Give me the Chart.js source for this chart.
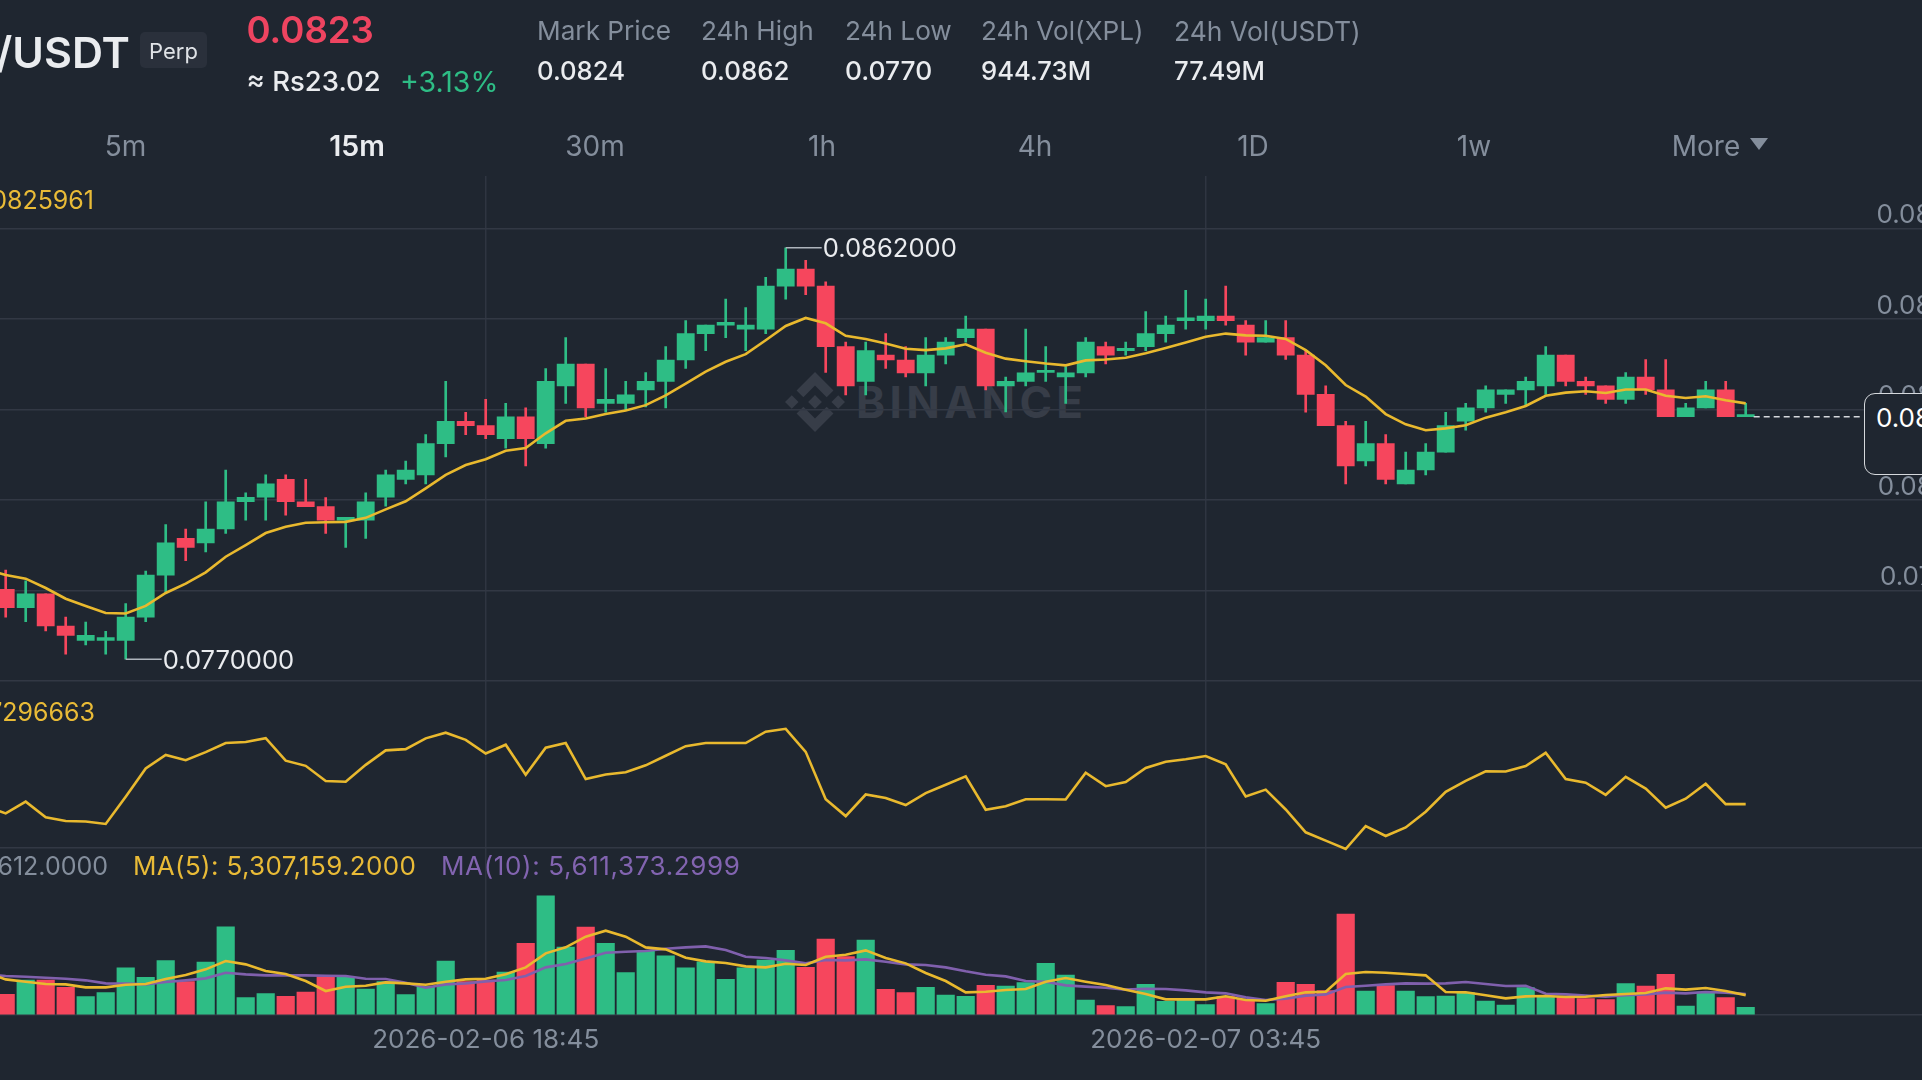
<!DOCTYPE html>
<html lang="en">
<head>
<meta charset="utf-8">
<title>XPL/USDT Perp 15m</title>
<script src="https://cdn.jsdelivr.net/npm/chart.js@4"></script>
<style>
html,body{margin:0;padding:0;width:1922px;height:1080px;overflow:hidden;background:#1f2630;font-family:Inter,"Noto Sans",sans-serif}
#stage{position:absolute;left:0;top:0;width:1922px;height:1080px;overflow:hidden}
canvas{position:absolute;left:0;top:0;z-index:2}
.t{position:absolute;white-space:nowrap;line-height:1;transform:translateY(-50%);z-index:3}
.r{transform:translate(-100%,-50%)}
.c{transform:translate(-50%,-50%)}
.g{color:#848e9c}.w{color:#eaecef}
#wm{position:absolute;left:785px;top:372px;width:300px;height:60px;z-index:1;color:#373d48}
#box{position:absolute;left:1864px;top:393px;width:120px;height:80px;border:1.5px solid #d5d8dc;border-radius:11px;background:#1f2630;z-index:3}
#tri{position:absolute;left:1750px;top:138px;width:0;height:0;border-left:9px solid transparent;border-right:9px solid transparent;border-top:12px solid #848e9c;z-index:3}
</style>
</head>
<body>
<div id="stage">
<div id="wm">
<svg width="60" height="60" viewBox="0 0 126.61 126.61" style="position:absolute;left:0;top:0"><path fill="#373d48" d="M38.73 53.2l24.59-24.58 24.6 24.6 14.3-14.31L63.32 0 24.42 38.9zM0 63.31l14.3-14.31 14.31 14.31-14.31 14.3zM38.73 73.41L63.32 97.99l24.6-24.6 14.31 14.29-38.9 38.91-38.91-38.88zM98 63.31l14.3-14.31 14.31 14.3-14.31 14.32zM77.83 63.3L63.32 48.78 52.59 59.51l-1.24 1.23-2.54 2.54 14.51 14.5L77.83 63.32z"/></svg>
<span style="position:absolute;left:71px;top:30px;transform:translateY(-50%);font-size:44px;font-weight:700;letter-spacing:4.4px;line-height:1">BINANCE</span>
</div>
<canvas id="c" width="2012" height="1080" style="width:2012px;height:1080px"></canvas>

<div class="t r w" style="left:130px;top:52px;font-size:43px;font-weight:600">XPL/USDT</div>
<div style="position:absolute;left:140px;top:32px;width:67px;height:36px;background:#2a303b;border-radius:5px;z-index:2"></div>
<div class="t c w" style="left:173.5px;top:51px;font-size:22px;color:#dfe2e6">Perp</div>
<div class="t" style="left:246.5px;top:30px;font-size:36.6px;font-weight:600;color:#ee4460">0.0823</div>
<div class="t w" style="left:246.5px;top:82px;font-size:27.5px;font-weight:500">≈ Rs23.02</div>
<div class="t" style="left:400px;top:82px;font-size:28.5px;color:#2ebd85">+3.13%</div>

<div class="t g" style="left:537px;top:31px;font-size:26.2px">Mark Price</div>
<div class="t w" style="left:537px;top:71px;font-size:25.7px;font-weight:500">0.0824</div>
<div class="t g" style="left:701px;top:31px;font-size:26.2px">24h High</div>
<div class="t w" style="left:701px;top:71px;font-size:25.9px;font-weight:500">0.0862</div>
<div class="t g" style="left:845px;top:31px;font-size:26.2px">24h Low</div>
<div class="t w" style="left:845px;top:71px;font-size:26.3px;font-weight:500">0.0770</div>
<div class="t g" style="left:981px;top:31px;font-size:26.2px">24h Vol(XPL)</div>
<div class="t w" style="left:981px;top:71px;font-size:25.7px;font-weight:500">944.73M</div>
<div class="t g" style="left:1174px;top:31px;font-size:26.5px">24h Vol(USDT)</div>
<div class="t w" style="left:1174px;top:71px;font-size:25.7px;font-weight:500">77.49M</div>

<div class="t c g" style="left:125.5px;top:146px;font-size:28px">5m</div>
<div class="t c w" style="left:357px;top:146px;font-size:28.5px;font-weight:600">15m</div>
<div class="t c g" style="left:595px;top:146px;font-size:28px">30m</div>
<div class="t c g" style="left:822px;top:146px;font-size:28px">1h</div>
<div class="t c g" style="left:1035px;top:146px;font-size:28px">4h</div>
<div class="t c g" style="left:1253px;top:146px;font-size:28px">1D</div>
<div class="t c g" style="left:1474px;top:146px;font-size:28px">1w</div>
<div class="t c g" style="left:1706px;top:146px;font-size:28px">More</div>
<div id="tri"></div>

<div class="t r" style="left:94px;top:200px;font-size:25px;color:#e9bb37">0.0825961</div>
<div class="t r" style="left:95px;top:712px;font-size:25px;color:#e9bb37">47.7296663</div>
<div class="t r g" style="left:108px;top:866px;font-size:25px">612.0000</div>
<div class="t" style="left:133px;top:866px;font-size:26px;letter-spacing:.35px;color:#e9bb37">MA(5): 5,307,159.2000</div>
<div class="t" style="left:441px;top:866px;font-size:26px;letter-spacing:.63px;color:#8264b0">MA(10): 5,611,373.2999</div>

<div id="box"></div>
<div class="t w" style="left:1876px;top:418px;font-size:26px;color:#fff">0.0824000</div>
</div>

<script>
const timeTickIndex = [24, 60];
const timeTickLabels = ['2026-02-06 18:45', '2026-02-07 03:45'];

const opens = [0.07856,0.07815,0.07846,0.07774,0.07742,0.07742,0.07742,0.07794,0.07888,0.07970,0.07960,0.07991,0.08052,0.08062,0.08102,0.08052,0.08041,0.08011,0.08011,0.08062,0.08102,0.08112,0.08182,0.08232,0.08222,0.08193,0.08242,0.08182,0.08311,0.08360,0.08272,0.08272,0.08302,0.08321,0.08369,0.08428,0.08447,0.08438,0.08438,0.08534,0.08572,0.08534,0.08399,0.08321,0.08380,0.08369,0.08340,0.08380,0.08419,0.08438,0.08311,0.08321,0.08341,0.08331,0.08340,0.08399,0.08390,0.08399,0.08428,0.08457,0.08457,0.08467,0.08447,0.08409,0.08419,0.08380,0.08292,0.08222,0.08143,0.08182,0.08092,0.08123,0.08163,0.08232,0.08262,0.08292,0.08302,0.08311,0.08380,0.08321,0.08311,0.08281,0.08331,0.08302,0.08242,0.08262,0.08302,0.08242];
const highs = [0.07899,0.07875,0.07846,0.07794,0.07783,0.07762,0.07824,0.07897,0.08001,0.07991,0.08052,0.08123,0.08072,0.08112,0.08112,0.08102,0.08061,0.08017,0.08072,0.08123,0.08143,0.08202,0.08321,0.08252,0.08281,0.08272,0.08262,0.08350,0.08419,0.08360,0.08350,0.08321,0.08341,0.08399,0.08457,0.08447,0.08505,0.08486,0.08554,0.08620,0.08592,0.08544,0.08409,0.08409,0.08428,0.08399,0.08419,0.08419,0.08467,0.08438,0.08331,0.08438,0.08399,0.08354,0.08419,0.08409,0.08409,0.08477,0.08467,0.08525,0.08505,0.08534,0.08457,0.08457,0.08457,0.08390,0.08311,0.08232,0.08232,0.08202,0.08163,0.08182,0.08252,0.08272,0.08311,0.08302,0.08331,0.08399,0.08380,0.08331,0.08311,0.08341,0.08370,0.08370,0.08272,0.08321,0.08321,0.08272];
const lows = [0.07794,0.07784,0.07763,0.07711,0.07732,0.07711,0.07700,0.07784,0.07850,0.07920,0.07940,0.07981,0.08011,0.08011,0.08022,0.08041,0.07981,0.07950,0.07970,0.08042,0.08092,0.08092,0.08152,0.08202,0.08193,0.08172,0.08132,0.08172,0.08272,0.08242,0.08252,0.08257,0.08264,0.08262,0.08350,0.08390,0.08419,0.08390,0.08428,0.08505,0.08515,0.08341,0.08291,0.08291,0.08350,0.08331,0.08311,0.08360,0.08409,0.08302,0.08253,0.08311,0.08321,0.08272,0.08331,0.08360,0.08380,0.08390,0.08409,0.08438,0.08438,0.08447,0.08380,0.08409,0.08370,0.08252,0.08222,0.08092,0.08132,0.08092,0.08092,0.08112,0.08163,0.08212,0.08252,0.08272,0.08266,0.08292,0.08311,0.08292,0.08272,0.08272,0.08292,0.08242,0.08242,0.08262,0.08242,0.08242];
const closes = [0.07815,0.07846,0.07774,0.07753,0.07753,0.07748,0.07794,0.07888,0.07960,0.07950,0.07991,0.08052,0.08062,0.08092,0.08052,0.08041,0.08011,0.08017,0.08052,0.08112,0.08123,0.08182,0.08232,0.08222,0.08202,0.08242,0.08193,0.08321,0.08360,0.08262,0.08281,0.08291,0.08321,0.08369,0.08428,0.08447,0.08453,0.08447,0.08534,0.08572,0.08534,0.08399,0.08311,0.08390,0.08369,0.08340,0.08380,0.08409,0.08438,0.08311,0.08321,0.08340,0.08346,0.08340,0.08409,0.08380,0.08395,0.08428,0.08447,0.08463,0.08467,0.08457,0.08409,0.08419,0.08380,0.08292,0.08222,0.08132,0.08182,0.08102,0.08123,0.08163,0.08222,0.08262,0.08302,0.08302,0.08321,0.08380,0.08321,0.08311,0.08281,0.08331,0.08302,0.08242,0.08262,0.08302,0.08242,0.08247];
const priceMAPrev = 0.07901;
const priceMA = [0.07888,0.07880,0.07859,0.07835,0.07819,0.07803,0.07802,0.07819,0.07848,0.07869,0.07894,0.07929,0.07955,0.07982,0.07996,0.08005,0.08006,0.08007,0.08016,0.08035,0.08053,0.08082,0.08112,0.08134,0.08147,0.08166,0.08172,0.08205,0.08233,0.08238,0.08248,0.08256,0.08268,0.08290,0.08316,0.08343,0.08365,0.08382,0.08413,0.08445,0.08463,0.08451,0.08423,0.08416,0.08406,0.08394,0.08391,0.08395,0.08404,0.08385,0.08372,0.08366,0.08361,0.08357,0.08368,0.08370,0.08374,0.08384,0.08396,0.08408,0.08421,0.08428,0.08424,0.08423,0.08416,0.08391,0.08357,0.08313,0.08287,0.08248,0.08225,0.08212,0.08216,0.08223,0.08240,0.08252,0.08266,0.08289,0.08296,0.08299,0.08295,0.08303,0.08303,0.08289,0.08284,0.08288,0.08279,0.08272];

const rsiPrev = 46.5;
const rsiValues = [43.5,48.3,41.9,40.4,40.2,39.2,50.3,61.8,67.3,65.2,68.5,72.2,72.6,74.2,65.0,62.9,56.7,56.4,63.3,69.2,69.7,74.1,76.4,73.5,67.9,71.5,59.3,70.3,72.2,57.5,59.4,60.3,63.1,67.0,70.9,72.2,72.2,72.2,76.8,78.0,68.6,49.3,42.4,51.2,49.8,46.9,51.8,55.2,58.6,45.0,46.4,49.3,49.3,49.2,60.1,54.6,56.3,62.0,64.6,65.6,66.9,63.5,50.4,53.2,45.1,35.8,32.4,29.0,38.3,34.3,37.8,44.2,52.3,56.8,60.7,60.6,62.8,68.2,57.5,56.0,51.1,58.4,53.6,45.8,49.5,55.6,47.3,47.3];

const volumes = [5.51,9.33,9.33,7.38,4.89,5.96,12.62,10.05,14.49,8.89,14.14,23.56,4.62,5.69,4.98,6.13,10.22,10.05,6.93,8.89,5.42,7.56,14.40,8.89,9.33,11.47,19.11,31.83,18.14,23.47,19.11,11.29,17.16,15.82,12.62,14.22,9.51,12.62,14.67,17.25,12.71,20.27,15.56,20.00,6.85,5.96,7.38,5.33,4.98,7.91,7.73,8.62,13.78,10.67,4.00,2.49,2.22,8.18,3.64,4.18,2.76,4.89,4.18,3.02,8.71,8.18,6.49,26.94,6.40,7.82,6.40,4.89,5.07,5.96,3.73,2.67,7.29,5.07,4.71,4.36,4.09,8.36,7.73,10.85,2.40,6.13,4.62,2.04];
const volumeMA5Prev = 11.38;
const volumeMA5 = [9.51,8.89,8.27,8.18,7.38,7.38,8.09,8.27,9.60,10.67,12.18,14.40,13.51,11.73,10.93,9.07,6.40,7.56,7.82,8.71,8.45,8.09,8.89,9.51,9.69,10.85,12.71,16.45,18.05,20.89,22.49,20.89,18.05,17.51,15.29,14.31,13.87,12.98,12.71,13.69,13.34,15.56,16.09,17.25,15.20,13.78,11.20,9.07,6.05,6.22,6.67,6.93,8.89,9.87,8.89,8.00,6.76,5.60,4.18,4.18,4.18,4.98,4.00,3.82,4.98,6.05,6.22,10.93,11.47,11.29,10.93,10.58,6.13,6.05,5.25,4.45,4.98,5.07,4.80,4.89,5.33,5.60,5.87,7.11,6.76,7.20,6.40,5.31];
const volumeMA10Prev = 10.76;
const volumeMA10 = [10.40,10.22,9.96,9.69,9.25,8.45,8.36,8.18,8.80,9.25,9.78,11.29,10.85,10.58,10.58,10.58,10.49,10.40,9.69,9.60,8.62,7.29,8.18,8.45,8.98,9.33,10.40,12.71,13.60,15.11,16.62,16.89,17.07,17.69,18.05,18.31,17.34,15.56,15.20,14.58,13.78,14.67,14.58,14.85,14.22,13.51,13.34,12.71,11.65,10.76,10.31,9.07,8.89,7.91,7.56,7.29,6.76,7.02,6.93,6.58,6.05,5.78,4.71,4.00,4.36,5.16,5.51,7.47,7.82,8.18,8.45,8.36,8.45,8.80,8.27,7.73,7.82,5.69,5.51,5.16,4.89,5.25,5.51,5.96,5.78,6.13,5.96,5.61];

const priceGrid = [0.086634,0.084605,0.082585,0.080555,0.078535,0.076515];
const highMark = {index: 39, value: 0.0862, text: '0.0862000', dy: 1.5};
const lowMark = {index: 6, value: 0.0770, text: '0.0770000', dy: 2};
const lastPrice = 0.08242;

const UP = '#2ebd85', DOWN = '#f6465d', YEL = '#e9b92e', PUR = '#8060ad', GRID = '#323844', VGRID = '#2f3541';
const FONT = 'Inter, "Noto Sans", sans-serif';
const idx = opens.map((_, i) => i);
const isUp = i => closes[i] >= opens[i];
const col = idx.map(i => isUp(i) ? UP : DOWN);
const pts = arr => arr.map((v, i) => ({x: i, y: v}));
const withPrev = (prev, arr) => [{x: -1, y: prev}, ...pts(arr)];

const marks = {
  id: 'marks',
  afterDatasetsDraw(chart) {
    const {ctx, scales: {x, yPrice}} = chart;
    ctx.save();
    ctx.font = '25.6px ' + FONT;
    ctx.textBaseline = 'middle';
    ctx.textAlign = 'left';
    for (const m of [highMark, lowMark]) {
      const px = x.getPixelForValue(m.index), py = yPrice.getPixelForValue(m.value);
      ctx.strokeStyle = '#aeb4bc'; ctx.lineWidth = 1.5;
      ctx.beginPath(); ctx.moveTo(px, py); ctx.lineTo(px + 36, py); ctx.stroke();
      ctx.fillStyle = '#eaecef';
      ctx.fillText(m.text, px + 37, py + m.dy);
    }
    const lx = x.getPixelForValue(opens.length - 1) + 8, ly = yPrice.getPixelForValue(lastPrice);
    ctx.strokeStyle = '#d5d8dc'; ctx.lineWidth = 1.5; ctx.setLineDash([6, 4]);
    ctx.beginPath(); ctx.moveTo(lx, ly); ctx.lineTo(1862, ly); ctx.stroke();
    ctx.restore();
  }
};

const stackAxis = (min, max, weight, stackWeight, ticks) => ({
  type: 'linear', position: 'right', stack: 'panes', stackWeight, weight, min, max,
  afterBuildTicks: s => { s.ticks = ticks.map(v => ({value: v})); },
  afterFit: s => { s.width = 0; },
  grid: {color: GRID, lineWidth: 1.5, drawTicks: false},
  border: {display: false},
  ticks: {mirror: true, padding: 0, callback: () => ''}
});

const yPriceAxis = stackAxis(0.076515, 0.087804, 0, 505, priceGrid);
yPriceAxis.ticks = {
  mirror: true, padding: 1, color: '#848e9c', labelOffset: -13,
  font: {size: 26, family: FONT},
  callback: v => v > 0.077 ? Number(v).toFixed(7) : ''
};

new Chart(document.getElementById('c'), {
  data: {
    datasets: [
      {type: 'bar', xAxisID: 'x', yAxisID: 'yPrice', order: 5, grouped: false, barThickness: 2, backgroundColor: col, data: idx.map(i => ({x: i, y: [lows[i], highs[i]]}))},
      {type: 'bar', xAxisID: 'x', yAxisID: 'yPrice', order: 4, grouped: false, barThickness: 17.2, backgroundColor: col, data: idx.map(i => ({x: i, y: [opens[i], closes[i]]}))},
      {type: 'line', xAxisID: 'x', yAxisID: 'yPrice', order: 1, borderColor: YEL, borderWidth: 2.6, pointRadius: 0, tension: 0, data: withPrev(priceMAPrev, priceMA)},
      {type: 'line', xAxisID: 'x', yAxisID: 'yRsi', order: 1, borderColor: YEL, borderWidth: 2.6, pointRadius: 0, tension: 0, clip: 8, data: withPrev(rsiPrev, rsiValues)},
      {type: 'bar', xAxisID: 'x', yAxisID: 'yVol', order: 4, grouped: false, barThickness: 17.5, backgroundColor: col, data: pts(volumes)},
      {type: 'line', xAxisID: 'x', yAxisID: 'yVol', order: 2, borderColor: PUR, borderWidth: 2.6, pointRadius: 0, tension: 0, data: withPrev(volumeMA10Prev, volumeMA10)},
      {type: 'line', xAxisID: 'x', yAxisID: 'yVol', order: 1, borderColor: YEL, borderWidth: 2.6, pointRadius: 0, tension: 0, data: withPrev(volumeMA5Prev, volumeMA5)}
    ]
  },
  options: {
    responsive: false, animation: false, devicePixelRatio: 1,
    layout: {padding: {top: 176, left: 0, right: 0, bottom: 0}},
    plugins: {legend: {display: false}, tooltip: {enabled: false}},
    scales: {
      x: {
        type: 'linear', position: 'bottom', offset: false, min: -0.285, max: 100.315,
        afterBuildTicks: s => { s.ticks = timeTickIndex.map(v => ({value: v})); },
        afterFit: s => { s.height = 65; },
        grid: {color: VGRID, lineWidth: 1.5, drawTicks: false, offset: false},
        border: {display: false},
        ticks: {
          autoSkip: false, maxRotation: 0, color: '#848e9c', padding: 10,
          font: {size: 26, family: FONT},
          callback: v => timeTickLabels[timeTickIndex.indexOf(v)]
        }
      },
      yPrice: yPriceAxis,
      yRsi: stackAxis(29.5, 97.55, 1, 167, [29.5]),
      yVol: stackAxis(0, 44.63, 2, 167.3, [0])
    }
  },
  plugins: [marks]
});
</script>
</body>
</html>
